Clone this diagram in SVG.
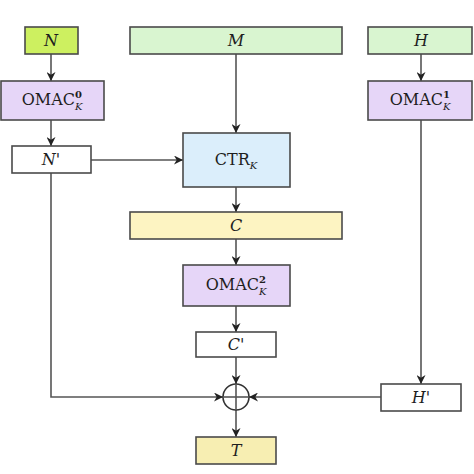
<svg xmlns="http://www.w3.org/2000/svg" width="474" height="474" viewBox="0 0 474 474">
<defs>
<style>
.b{stroke:#4a4a4a;stroke-width:1.6}
.l{stroke:#555;stroke-width:1.6;fill:none}
text{font-family:"DejaVu Serif","Liberation Serif",serif;font-size:16px;fill:#1e1e1e;text-anchor:middle}
.v{font-style:italic}
.s{font-size:10px;font-weight:bold}
.k{font-size:10px;font-style:italic}
</style>
<marker id="a" viewBox="0 0 10 10" refX="10" refY="5" markerWidth="9" markerHeight="9" orient="auto" markerUnits="userSpaceOnUse">
<path d="M0,0 L10,5 L0,10 L3,5 Z" fill="#222"/>
</marker>
</defs>
<rect width="474" height="474" fill="#fff"/>
<g id="connectors">
<line class="l" x1="51" y1="54" x2="51" y2="81" marker-end="url(#a)"/>
<line class="l" x1="51" y1="120" x2="51" y2="146" marker-end="url(#a)"/>
<line class="l" x1="91" y1="160" x2="183" y2="160" marker-end="url(#a)"/>
<polyline class="l" points="51,173 51,397 223,397" marker-end="url(#a)"/>
<line class="l" x1="236" y1="54" x2="236" y2="133" marker-end="url(#a)"/>
<line class="l" x1="236" y1="187" x2="236" y2="212" marker-end="url(#a)"/>
<line class="l" x1="236" y1="239" x2="236" y2="265" marker-end="url(#a)"/>
<line class="l" x1="236" y1="306" x2="236" y2="332" marker-end="url(#a)"/>
<line class="l" x1="236" y1="357" x2="236" y2="384" marker-end="url(#a)"/>
<line class="l" x1="421" y1="54" x2="421" y2="81" marker-end="url(#a)"/>
<line class="l" x1="421" y1="120" x2="421" y2="384" marker-end="url(#a)"/>
<line class="l" x1="381" y1="397" x2="249" y2="397" marker-end="url(#a)"/>
<line class="l" x1="236" y1="410" x2="236" y2="437" marker-end="url(#a)"/>
</g>
<g id="N"><rect class="b" x="25" y="27" width="53" height="27" fill="#cdf060"/><text class="v" x="51" y="46">N</text></g>
<g id="M"><rect class="b" x="130" y="27" width="212" height="27" fill="#d9f5d0"/><text class="v" x="236" y="46">M</text></g>
<g id="H"><rect class="b" x="368" y="27" width="104" height="27" fill="#d9f5d0"/><text class="v" x="421" y="46">H</text></g>
<g id="OMAC0"><rect class="b" x="1" y="81" width="103" height="39" fill="#e6d6f8"/><text x="52" y="105">OMAC<tspan class="s" dy="-7">0</tspan><tspan class="k" dx="-7" dy="12">K</tspan></text></g>
<g id="OMAC1"><rect class="b" x="368" y="81" width="104" height="39" fill="#e6d6f8"/><text x="420" y="105">OMAC<tspan class="s" dy="-7">1</tspan><tspan class="k" dx="-7" dy="12">K</tspan></text></g>
<g id="Nprime"><rect class="b" x="12" y="146" width="79" height="27" fill="#fff"/><text class="v" x="51" y="165">N'</text></g>
<g id="CTR"><rect class="b" x="183" y="133" width="107" height="54" fill="#dbeefb"/><text x="236" y="165">CTR<tspan class="k" dy="4">K</tspan></text></g>
<g id="C"><rect class="b" x="130" y="212" width="212" height="27" fill="#fdf4c2"/><text class="v" x="236" y="231">C</text></g>
<g id="OMAC2"><rect class="b" x="183" y="265" width="107" height="41" fill="#e6d6f8"/><text x="236" y="290">OMAC<tspan class="s" dy="-7">2</tspan><tspan class="k" dx="-7" dy="12">K</tspan></text></g>
<g id="Cprime"><rect class="b" x="196" y="332" width="80" height="25" fill="#fff"/><text class="v" x="236" y="350">C'</text></g>
<g id="xor"><circle cx="236" cy="397" r="13" fill="#fff" stroke="#333" stroke-width="1.6"/><line class="l" x1="223" y1="397" x2="249" y2="397"/><line class="l" x1="236" y1="384" x2="236" y2="410"/></g>
<g id="Hprime"><rect class="b" x="381" y="384" width="80" height="27" fill="#fff"/><text class="v" x="421" y="403">H'</text></g>
<g id="T"><rect class="b" x="196" y="437" width="80" height="27" fill="#f7eeb2"/><text class="v" x="236" y="456">T</text></g>
</svg>
